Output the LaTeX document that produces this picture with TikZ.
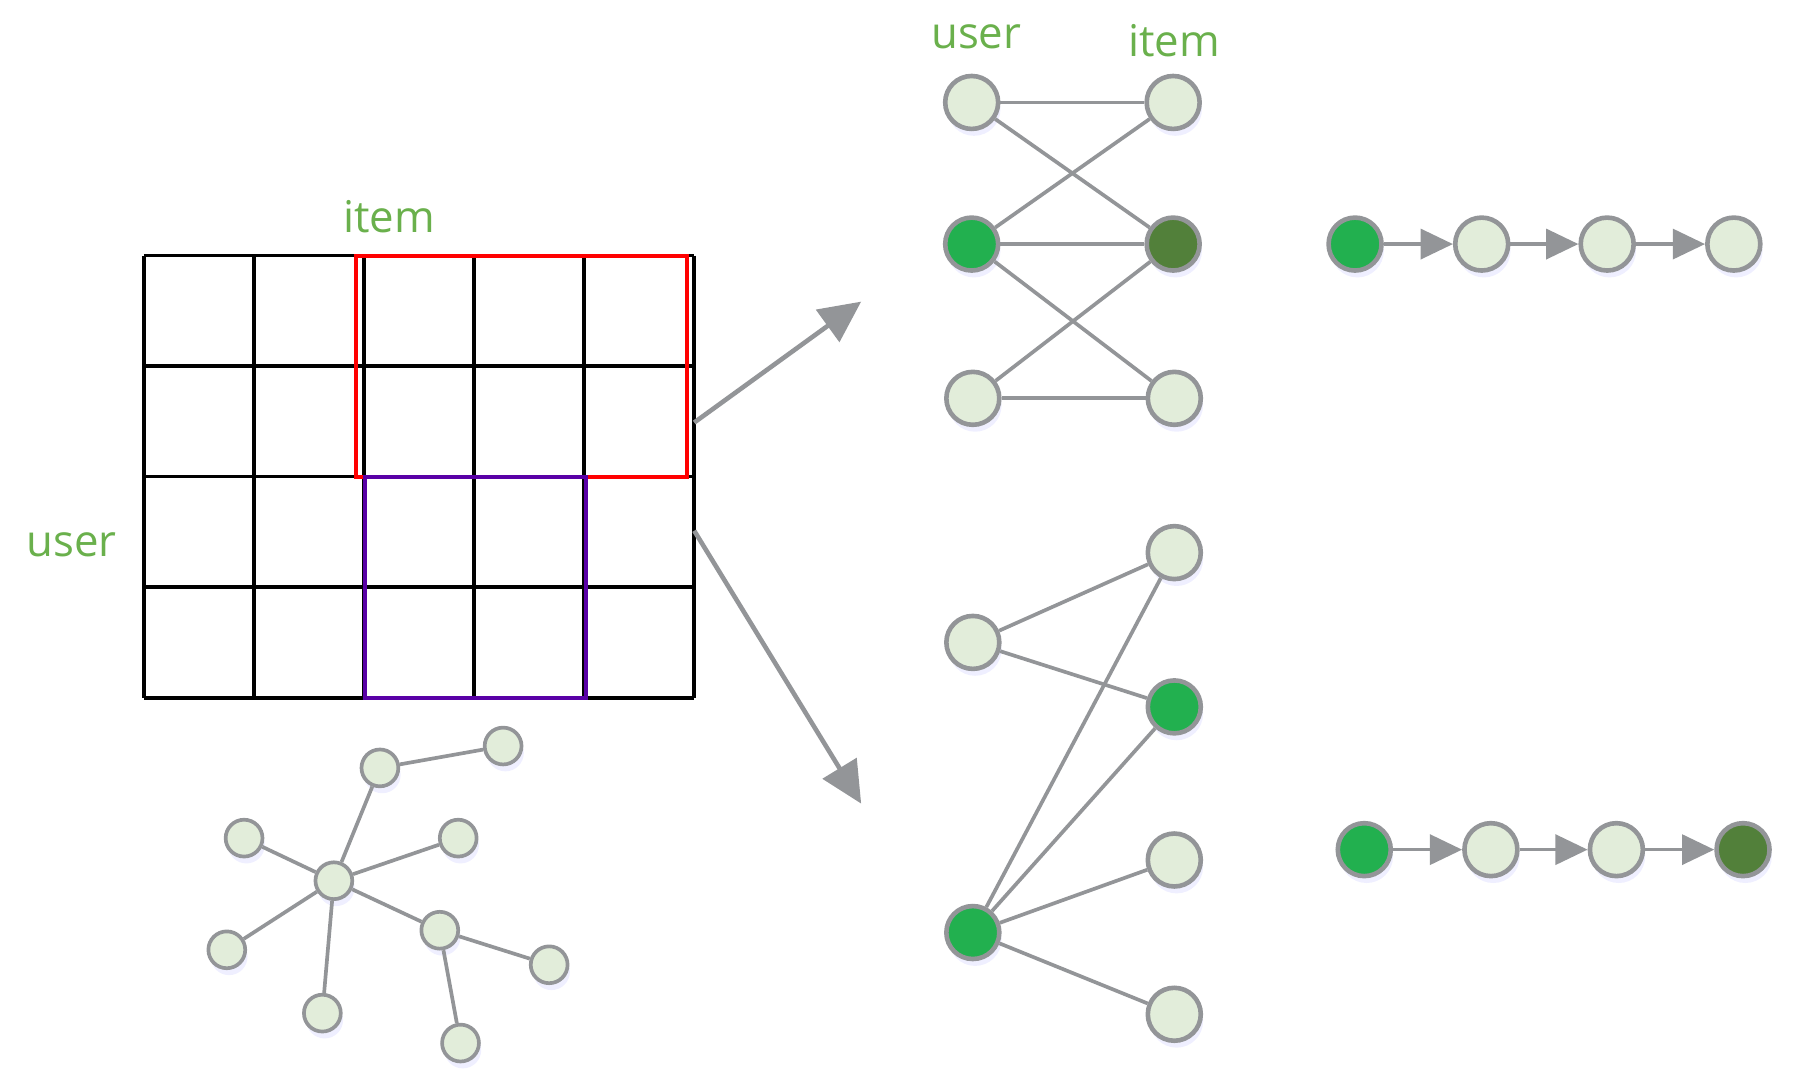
\documentclass[tikz,border=0pt]{standalone}
\usepackage{fontspec}
\setmainfont{Open Sans}
\usetikzlibrary{arrows.meta,shadows}
\definecolor{lightnode}{HTML}{E2EDDA}
\definecolor{greennode}{HTML}{22B04F}
\definecolor{darknode}{HTML}{52803A}
\definecolor{edgegray}{HTML}{939598}
\definecolor{labelgreen}{HTML}{6AB04C}
\tikzset{
  vtx/.style={circle,draw=edgegray,line width=2pt,minimum size=23pt,inner sep=0pt,fill=lightnode,
    drop shadow={fill=blue!10,opacity=.6,shadow xshift=1pt,shadow yshift=-3pt}},
  small/.style={vtx,minimum size=16pt,line width=1.6pt},
  green/.style={fill=greennode},
  dark/.style={fill=darknode},
  edge/.style={draw=edgegray,line width=1.6pt},
  chain/.style={edge,-{Triangle[length=14pt,width=13pt]}},
  big/.style={draw=edgegray,line width=2pt,-{Triangle[length=18pt,width=17pt]}},
  lbl/.style={text=labelgreen,font=\fontsize{19}{20}\selectfont}
}
\begin{document}
\begin{tikzpicture}[x=0.5pt,y=-0.5pt]
\useasboundingbox (0,0) rectangle (1560,936);

% the matrix
\foreach \x in {125,220.6,316.2,411.8,507.4,603}
  \draw[line width=1.6pt] (\x,222) -- (\x,606);
\foreach \y in {222,318,414,510,606}
  \draw[line width=1.6pt] (125,\y) -- (603,\y);
\draw[red,line width=1.8pt] (309,222) rectangle (597,414);
\draw[violet!70!blue,line width=1.8pt] (317,414) rectangle (509,606);
\node[lbl] (itemlab) at (338,188) {item};
\node[lbl] (userlab) at (62,473) {user};

% arrows to the graphs
\coordinate (s1) at (603,367);
\coordinate (t1) at (748,262);
\coordinate (s2) at (603,461);
\coordinate (t2) at (748,698);
\draw[big] (s1) -- (t1);
\draw[big] (s2) -- (t2);

% top bipartite graph
\node[lbl] (ulab) at (848,32) {user};
\node[lbl] (ilab) at (1020,35) {item};
\node[vtx] (u1) at (844,89) {};
\node[vtx,green] (u2) at (844,212) {};
\node[vtx] (u3) at (845,346) {};
\node[vtx] (i1) at (1019,89) {};
\node[vtx,dark] (i2) at (1019,212) {};
\node[vtx] (i3) at (1020,346) {};
\foreach \a/\b in {u1/i1,u1/i2,u2/i1,u2/i2,u2/i3,u3/i2,u3/i3}
  \draw[edge] (\a) -- (\b);

% bottom bipartite graph
\node[vtx] (v1) at (845,558) {};
\node[vtx,green] (v2) at (845,810) {};
\node[vtx] (j1) at (1020,480) {};
\node[vtx,green] (j2) at (1020,614) {};
\node[vtx] (j3) at (1020,747) {};
\node[vtx] (j4) at (1020,881) {};
\foreach \a/\b in {v1/j1,v1/j2,v2/j1,v2/j2,v2/j3,v2/j4}
  \draw[edge] (\a) -- (\b);

% sequences
\node[vtx,green] (p1) at (1177,212) {};
\node[vtx] (p2) at (1287,212) {};
\node[vtx] (p3) at (1396,212) {};
\node[vtx] (p4) at (1506,212) {};
\node[vtx,green] (q1) at (1185,738) {};
\node[vtx] (q2) at (1295,738) {};
\node[vtx] (q3) at (1404,738) {};
\node[vtx,dark] (q4) at (1514,738) {};
\foreach \a/\b in {p1/p2,p2/p3,p3/p4,q1/q2,q2/q3,q3/q4}
  \draw[chain] (\a) -- (\b);

% the small social graph
\node[small] (a) at (330,667) {};
\node[small] (b) at (437,648) {};
\node[small] (c) at (212,728) {};
\node[small] (d) at (398,728) {};
\node[small] (e) at (290,765) {};
\node[small] (f) at (382,808) {};
\node[small] (g) at (197,825) {};
\node[small] (h) at (477,838) {};
\node[small] (i) at (280,880) {};
\node[small] (j) at (400,906) {};
\foreach \a/\b in {a/b,a/e,c/e,d/e,e/g,e/i,e/f,f/h,f/j}
  \draw[edge] (\a) -- (\b);
\end{tikzpicture}
\end{document}
